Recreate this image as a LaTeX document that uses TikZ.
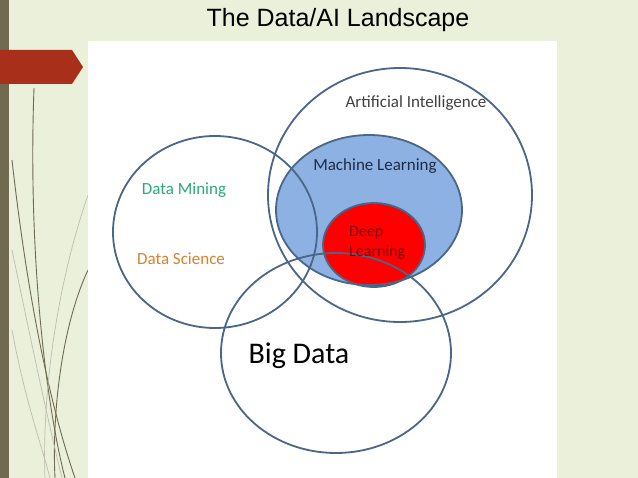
\documentclass[tikz,border=0pt]{standalone}
\usepackage{fontspec}
\setmainfont{Liberation Sans}
\newfontfamily\carlitofont{Carlito}
\definecolor{bg}{HTML}{EAF0DA}
\definecolor{olive}{HTML}{706A50}
\definecolor{arrowred}{HTML}{A8301A}
\definecolor{ring}{HTML}{4A6688}
\definecolor{mlblue}{HTML}{8DB1E2}
\definecolor{dmgreen}{HTML}{2EA878}
\definecolor{dsorange}{HTML}{D9822B}
\definecolor{dlred}{HTML}{FF0000}
\definecolor{dltext}{HTML}{7A0A0A}
\definecolor{mltext}{HTML}{1F2B45}
\begin{document}
\begin{tikzpicture}[x=1pt,y=-1pt,
  ringline/.style={draw=ring,line width=1.8pt},
  lbl/.style={font=\carlitofont\fontsize{17}{19}\selectfont,inner sep=0pt},
  deco/.style={draw=olive,line width=0.9pt},
  decolight/.style={draw=olive!45,line width=0.7pt}]
\useasboundingbox (0,0) rectangle (638,478);
\fill[bg] (0,0) rectangle (638,478);
\fill[olive] (0,0) rectangle (9,478);
% decorative curves
\draw[deco] (12,160) .. controls (30,320) and (55,420) .. (75,478);
\draw[deco] (34,88) .. controls (28,250) and (45,400) .. (65,478);
\draw[deco] (88,270) .. controls (60,330) and (52,420) .. (55,478);
\draw[decolight] (12,250) .. controls (35,360) and (50,430) .. (62,478);
\draw[decolight] (88,195) .. controls (55,290) and (42,400) .. (45,478);
\draw[decolight] (12,330) .. controls (25,400) and (40,440) .. (50,478);
% red arrow
\fill[arrowred] (0,50) -- (72,50) -- (83,67) -- (72,84) -- (0,84) -- cycle;
\node[font=\fontsize{25}{29}\selectfont,inner sep=0pt] (title) at (338,20) {The Data/AI Landscape};
\fill[white] (88,41) rectangle (557,478);
% fills
\fill[mlblue] (369,210) ellipse [x radius=93,y radius=75];
\fill[dlred] (374,245) ellipse [x radius=51,y radius=42];
% outlines
\draw[ringline] (369,210) ellipse [x radius=93,y radius=75];
\draw[ringline] (374,245) ellipse [x radius=51,y radius=42];
\draw[ringline] (400,195) ellipse [x radius=132,y radius=127];
\draw[ringline] (215,232) ellipse [x radius=102,y radius=96];
\draw[ringline] (336,353) ellipse [x radius=115,y radius=100];
% labels
\node[lbl,text=black!75] (ai) at (416,103) {Artificial Intelligence};
\node[lbl,text=mltext] (ml) at (375,166) {Machine Learning};
\node[lbl,text=dmgreen] (dm) at (184,190) {Data Mining};
\node[lbl,text=dsorange] (ds) at (181,259) {Data Science};
\node[lbl,text=dltext,align=left,anchor=west,font=\carlitofont\fontsize{16}{20}\selectfont] (dl) at (349,243) {Deep\\Learning};
\node[lbl,font=\carlitofont\fontsize{30}{34}\selectfont] (bd) at (299,356) {Big Data};
\end{tikzpicture}
\end{document}
